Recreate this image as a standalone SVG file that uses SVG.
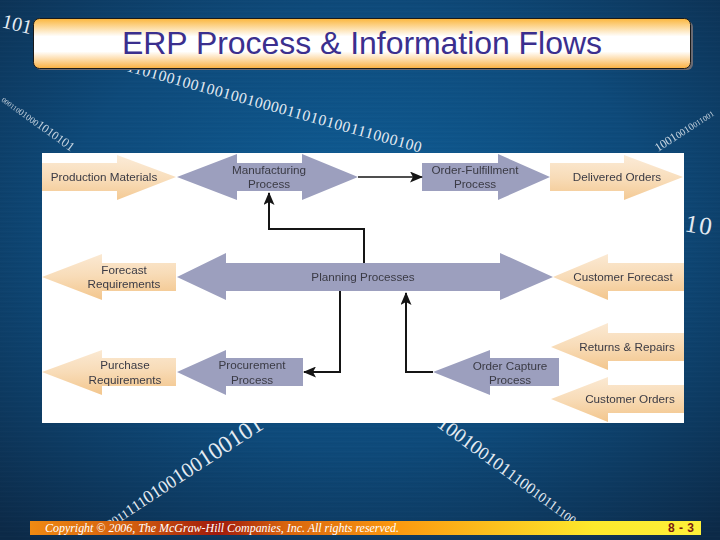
<svg xmlns="http://www.w3.org/2000/svg" width="720" height="540" viewBox="0 0 720 540">
<style>
.lbl{font-family:"Liberation Sans",Arial,sans-serif;font-size:11.7px;fill:#3a3a44;text-anchor:middle;filter:url(#soft)}
.bin{font-family:"Liberation Serif","Times New Roman",serif;fill:#e4ebf2}
.p{fill:#9c9fbe}
.o{fill:url(#oR)}
.ol{fill:url(#oL)}
.c{fill:none;stroke:#151515;stroke-linejoin:miter}
</style>
<defs>
<filter id="soft" x="-5%" y="-20%" width="110%" height="140%"><feGaussianBlur stdDeviation="0.3"/></filter>
<radialGradient id="bg" cx="50%" cy="42%" r="75%">
<stop offset="0" stop-color="#0f5f99"/><stop offset="0.55" stop-color="#0e4a7a"/><stop offset="1" stop-color="#0c2a48"/>
</radialGradient>
<pattern id="streak" width="720" height="5" patternUnits="userSpaceOnUse">
<rect width="720" height="1" y="1" fill="#ffffff" opacity="0.012"/><rect width="720" height="1" y="3" fill="#000000" opacity="0.025"/>
</pattern>
<linearGradient id="title" x1="0" y1="0" x2="0" y2="1">
<stop offset="0" stop-color="#fbb63d"/><stop offset="0.36" stop-color="#ffffff"/><stop offset="0.66" stop-color="#ffffff"/><stop offset="1" stop-color="#fbb040"/>
</linearGradient>
<linearGradient id="foot" x1="0" y1="0" x2="1" y2="0">
<stop offset="0" stop-color="#f08a12"/><stop offset="0.16" stop-color="#cf5a0e"/><stop offset="0.28" stop-color="#a01a0c"/><stop offset="0.38" stop-color="#d8640e"/><stop offset="0.55" stop-color="#fb9a10"/><stop offset="0.84" stop-color="#fde92c"/><stop offset="1" stop-color="#fdf03a"/>
</linearGradient>
<linearGradient id="oR" x1="0.1" y1="0" x2="0" y2="1">
<stop offset="0" stop-color="#fbead5"/><stop offset="0.5" stop-color="#f8dcb8"/><stop offset="1" stop-color="#f3c78f"/>
</linearGradient>
<linearGradient id="oL" x1="0" y1="0" x2="0.1" y2="1">
<stop offset="0" stop-color="#fbead5"/><stop offset="0.5" stop-color="#f8dcb8"/><stop offset="1" stop-color="#f3c78f"/>
</linearGradient>
<marker id="ah" markerUnits="userSpaceOnUse" viewBox="0 0 13 11" markerWidth="13" markerHeight="11" refX="12" refY="5.5" orient="auto">
<path d="M0 0L13 5.5L0 11L3 5.5Z" fill="#151515"/>
</marker>
</defs>

<g id="background">
<rect width="720" height="540" fill="url(#bg)"/>
<rect width="720" height="540" fill="url(#streak)"/>
<text class="bin" transform="translate(1,27) rotate(14)" font-size="20">101</text>
<text class="bin" transform="translate(126,71) rotate(15.5)" font-size="15.5" textLength="305">1101001001001001000011010100111000100</text>
<text class="bin" transform="translate(1,101) rotate(36)" opacity="0.85"><tspan font-size="7">000110</tspan><tspan font-size="9">01000</tspan><tspan font-size="12">10101</tspan><tspan font-size="13">01</tspan></text>
<text class="bin" transform="translate(658,152) rotate(-33)" opacity="0.85"><tspan font-size="12">1001</tspan><tspan font-size="10">0010</tspan><tspan font-size="8">011001</tspan></text>
<text class="bin" transform="translate(684,231) rotate(10)" font-size="25">1</text>
<text class="bin" transform="translate(698,233) rotate(10)" font-size="25">0</text>
<text class="bin" transform="translate(100,535) rotate(-33)"><tspan font-size="12">010011</tspan><tspan font-size="15">111</tspan><tspan font-size="18">0100</tspan><tspan font-size="21">100</tspan><tspan font-size="24">100101</tspan></text>
<text class="bin" transform="translate(436,426) rotate(36)"><tspan font-size="20">10010</tspan><tspan font-size="18">0101</tspan><tspan font-size="16">1100</tspan><tspan font-size="14">1011</tspan><tspan font-size="12">1100</tspan><tspan font-size="10">101</tspan></text>
</g>

<g id="title-bar">
<rect x="35" y="21" width="658" height="49" rx="6" fill="#6a6a72"/>
<rect x="33.5" y="18.5" width="657" height="50" rx="6" fill="url(#title)" stroke="#1a1a1a"/>
<text x="362" y="54" font-family="'Liberation Sans',Arial,sans-serif" font-size="32" fill="#3b2f8e" text-anchor="middle" textLength="480">ERP Process &amp; Information Flows</text>
</g>

<rect id="panel" x="42" y="153" width="642" height="270" fill="#ffffff"/>

<g id="production-materials"><path class="o" d="M42 163H117V155L176 177L117 200V191H42Z"/><text class="lbl" x="104" y="181">Production Materials</text></g>
<g id="manufacturing-process"><path class="p" d="M177 177L237 154V163H302V154L358 177L302 200V191H237V200Z"/><text class="lbl" x="269" y="174">Manufacturing</text><text class="lbl" x="269" y="188">Process</text></g>
<g id="order-fulfillment-process"><path class="p" d="M422 163H498V154L550 177L498 200V191H422Z"/><text class="lbl" x="475" y="174">Order-Fulfillment</text><text class="lbl" x="475" y="188">Process</text></g>
<g id="delivered-orders"><path class="o" d="M550 163H624V155L683 177L624 200V191H550Z"/><text class="lbl" x="617" y="181">Delivered Orders</text></g>

<g id="forecast-requirements"><path class="ol" d="M42 277L102 254V263H176V291H102V300Z"/><text class="lbl" x="124" y="274">Forecast</text><text class="lbl" x="124" y="288">Requirements</text></g>
<g id="planning-processes"><path class="p" d="M177 277L226 253V263H500V253L553 277L500 300V291H226V300Z"/><text class="lbl" x="363" y="281">Planning Processes</text></g>
<g id="customer-forecast"><path class="ol" d="M553 277L608 254V263H684V291H608V300Z"/><text class="lbl" x="623" y="281">Customer Forecast</text></g>

<g id="returns-repairs"><path class="ol" d="M551 347L608 323V333H684V361H608V370Z"/><text class="lbl" x="627" y="351">Returns &amp; Repairs</text></g>
<g id="purchase-requirements"><path class="ol" d="M42 372L102 350V358H176V386H102V395Z"/><text class="lbl" x="125" y="369">Purchase</text><text class="lbl" x="125" y="384">Requirements</text></g>
<g id="procurement-process"><path class="p" d="M177 372L226 350V358H303V386H226V395Z"/><text class="lbl" x="252" y="369">Procurement</text><text class="lbl" x="252" y="384">Process</text></g>
<g id="order-capture-process"><path class="p" d="M433 372L490 350V358H559V386H490V395Z"/><text class="lbl" x="510" y="370">Order Capture</text><text class="lbl" x="510" y="384">Process</text></g>
<g id="customer-orders"><path class="ol" d="M551 399L608 377V385H684V413H608V422Z"/><text class="lbl" x="630" y="403">Customer Orders</text></g>

<g id="connectors">
<path class="c" stroke-width="1.5" d="M358 177H422" marker-end="url(#ah)"/>
<path class="c" stroke-width="2" d="M364 263V229H269V193" marker-end="url(#ah)"/>
<path class="c" stroke-width="2" d="M340 291V372H304" marker-end="url(#ah)"/>
<path class="c" stroke-width="2" d="M433 372H406V293" marker-end="url(#ah)"/>
</g>

<g id="footer">
<rect x="30" y="521" width="671" height="14" fill="url(#foot)"/>
<text x="45" y="532" font-family="'Liberation Serif','Times New Roman',serif" font-style="italic" font-size="12" fill="#ffffff" textLength="354">Copyright © 2006, The McGraw-Hill Companies, Inc. All rights reserved.</text>
<text x="681" y="532" font-family="'Liberation Sans',Arial,sans-serif" font-weight="bold" font-size="12" fill="#7a1a10" text-anchor="middle" textLength="26">8 - 3</text>
</g>
</svg>
